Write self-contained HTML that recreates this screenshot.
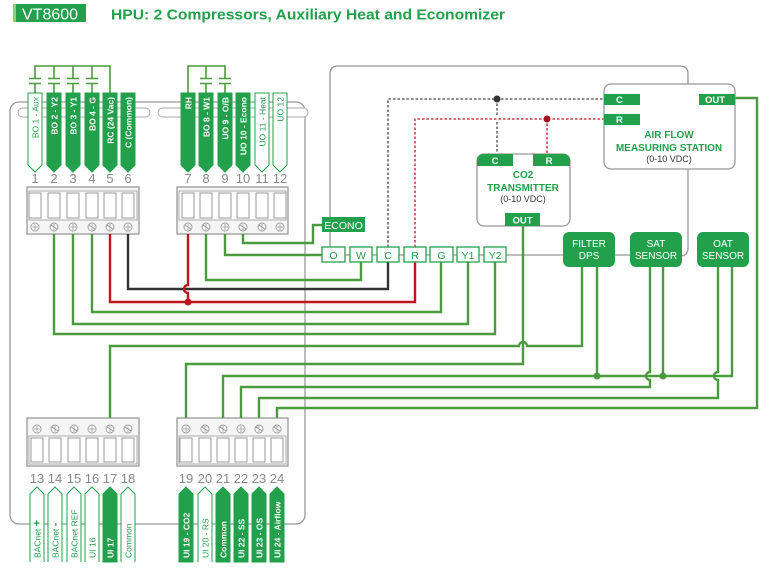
<!DOCTYPE html>
<html><head><meta charset="utf-8"><style>
html,body{margin:0;padding:0;background:#fff;}
svg{display:block;font-family:"Liberation Sans",Arial,sans-serif;}
.tw{fill:#fff;font-size:8.5px;font-weight:bold;}
.tg{fill:#22a04b;font-size:8.5px;}
.num{fill:#888;font-size:13px;text-anchor:middle;}
.w{fill:none;stroke:#4c9a3f;stroke-width:2.4;}
.gr{fill:none;stroke:#999;stroke-width:1.3;}
</style></head><body>
<svg width="768" height="572" viewBox="0 0 768 572">
<!-- header -->
<rect x="13" y="4" width="73" height="18" fill="#22a04b"/>
<rect x="13" y="4" width="3" height="18" fill="#8fd070"/>
<text x="22" y="19.5" fill="#fff" font-size="16">VT8600</text>
<text x="111" y="19.5" fill="#22a04b" font-size="15" font-weight="bold" textLength="394" lengthAdjust="spacingAndGlyphs">HPU: 2 Compressors, Auxiliary Heat and Economizer</text>

<!-- panel -->
<rect x="10" y="102" width="295" height="422" rx="9" fill="none" stroke="#999" stroke-width="1.3"/>
<rect x="18" y="108" width="132" height="9" rx="4.5" fill="#fff" stroke="#aaa" stroke-width="1"/>
<rect x="158" y="108" width="150" height="9" rx="4.5" fill="#fff" stroke="#aaa" stroke-width="1"/>

<!-- gray outer loop -->
<path class="gr" d="M330,247 V74 Q330,66 338,66 H680 Q688,66 688,74 V248 Q688,256 680,256"/>
<path class="gr" d="M322,255 H506 M506,255 H563 M615,255 H630"/>

<!-- jumpers top -->
<g fill="none" stroke="#4c9a3f" stroke-width="1.6">
<path d="M35,93 V66 H110 V93"/>
<path d="M54,66 V93 M73,66 V93 M92,66 V93"/>
<path d="M188,93 V66 H225 V93 M206,66 V93"/>
</g>
<g fill="#fff">
<rect x="29" y="78" width="12" height="6"/><rect x="48" y="78" width="12" height="6"/><rect x="67" y="78" width="12" height="6"/><rect x="86" y="78" width="12" height="6"/><rect x="200" y="78" width="12" height="6"/><rect x="219" y="78" width="12" height="6"/>
</g>
<g stroke="#4c9a3f" stroke-width="1.6">
<path d="M29,78.5 h12 M29,83.5 h12 M48,78.5 h12 M48,83.5 h12 M67,78.5 h12 M67,83.5 h12 M86,78.5 h12 M86,83.5 h12 M200,78.5 h12 M200,83.5 h12 M219,78.5 h12 M219,83.5 h12"/>
</g>

<!-- top tags -->
<g stroke="#22a04b" stroke-width="1">
<path d="M28,93 h14 v72 l-7,7 l-7,-7z" fill="#fff"/>
<path d="M47,93 h14 v72 l-7,7 l-7,-7z" fill="#22a04b"/>
<path d="M66,93 h14 v72 l-7,7 l-7,-7z" fill="#22a04b"/>
<path d="M85,93 h14 v72 l-7,7 l-7,-7z" fill="#22a04b"/>
<path d="M103,93 h14 v72 l-7,7 l-7,-7z" fill="#22a04b"/>
<path d="M121,93 h14 v72 l-7,7 l-7,-7z" fill="#22a04b"/>
<path d="M181,93 h14 v72 l-7,7 l-7,-7z" fill="#22a04b"/>
<path d="M199,93 h14 v72 l-7,7 l-7,-7z" fill="#22a04b"/>
<path d="M218,93 h14 v72 l-7,7 l-7,-7z" fill="#22a04b"/>
<path d="M236,93 h14 v72 l-7,7 l-7,-7z" fill="#22a04b"/>
<path d="M255,93 h14 v72 l-7,7 l-7,-7z" fill="#fff"/>
<path d="M273,93 h14 v72 l-7,7 l-7,-7z" fill="#fff"/>
</g>
<g text-anchor="end">
<text class="tg" transform="translate(38.5,97) rotate(-90)">BO 1 - Aux</text>
<text class="tw" transform="translate(57.5,97) rotate(-90)">BO 2 - Y2</text>
<text class="tw" transform="translate(76.5,97) rotate(-90)">BO 3 - Y1</text>
<text class="tw" transform="translate(95.5,97) rotate(-90)">BO 4 - G</text>
<text class="tw" transform="translate(113.5,97) rotate(-90)">RC (24 Vac)</text>
<text class="tw" transform="translate(131.5,97) rotate(-90)">C (Common)</text>
<text class="tw" transform="translate(191.5,97) rotate(-90)">RH</text>
<text class="tw" transform="translate(209.5,97) rotate(-90)">BO 8 - W1</text>
<text class="tw" transform="translate(228.5,97) rotate(-90)">UO 9 - O/B</text>
<text class="tw" transform="translate(246.5,97) rotate(-90)">UO 10 - Econo</text>
<text class="tg" transform="translate(265.5,97) rotate(-90)" font-size="7.5">UO 11 - Heat</text>
<text class="tg" transform="translate(283.5,97) rotate(-90)">UO 12</text>
</g>
<g class="num">
<text x="35" y="183">1</text><text x="54" y="183">2</text><text x="73" y="183">3</text><text x="92" y="183">4</text><text x="110" y="183">5</text><text x="128" y="183">6</text>
<text x="188" y="183">7</text><text x="206" y="183">8</text><text x="225" y="183">9</text><text x="243" y="183">10</text><text x="262" y="183">11</text><text x="280" y="183">12</text>
</g>

<!-- terminal blocks top -->
<g fill="#f5f5f5" stroke="#999" stroke-width="1.3">
<rect x="27" y="187" width="112" height="47"/>
<rect x="177" y="187" width="111" height="47"/>
<rect x="27" y="418" width="112" height="48"/>
<rect x="177" y="418" width="111" height="48"/>
</g>
<g fill="#fff" stroke="#aaa" stroke-width="1">
<rect x="29" y="191" width="108" height="29"/><rect x="179" y="191" width="107" height="29"/>
<rect x="29" y="436" width="108" height="28"/><rect x="179" y="436" width="107" height="28"/>
</g>
<g fill="#fff" stroke="#999" stroke-width="1">
<rect x="29" y="193" width="12" height="25"/><rect x="48" y="193" width="12" height="25"/><rect x="67" y="193" width="12" height="25"/><rect x="86" y="193" width="12" height="25"/><rect x="104" y="193" width="12" height="25"/><rect x="122" y="193" width="12" height="25"/>
<rect x="182" y="193" width="12" height="25"/><rect x="200" y="193" width="12" height="25"/><rect x="219" y="193" width="12" height="25"/><rect x="237" y="193" width="12" height="25"/><rect x="256" y="193" width="12" height="25"/><rect x="274" y="193" width="12" height="25"/>
<rect x="31" y="438" width="12" height="24"/><rect x="49" y="438" width="12" height="24"/><rect x="68" y="438" width="12" height="24"/><rect x="86" y="438" width="12" height="24"/><rect x="104" y="438" width="12" height="24"/><rect x="122" y="438" width="12" height="24"/>
<rect x="180" y="438" width="12" height="24"/><rect x="199" y="438" width="12" height="24"/><rect x="217" y="438" width="12" height="24"/><rect x="235" y="438" width="12" height="24"/><rect x="253" y="438" width="12" height="24"/><rect x="271" y="438" width="12" height="24"/>
</g>
<g fill="#fff" stroke="#999" stroke-width="0.9">
<circle cx="35" cy="227" r="4"/><circle cx="54" cy="227" r="4"/><circle cx="73" cy="227" r="4"/><circle cx="92" cy="227" r="4"/><circle cx="110" cy="227" r="4"/><circle cx="128" cy="227" r="4"/>
<circle cx="188" cy="227" r="4"/><circle cx="206" cy="227" r="4"/><circle cx="225" cy="227" r="4"/><circle cx="243" cy="227" r="4"/><circle cx="262" cy="227" r="4"/><circle cx="280" cy="227" r="4"/>
<circle cx="37" cy="429" r="4"/><circle cx="55" cy="429" r="4"/><circle cx="74" cy="429" r="4"/><circle cx="92" cy="429" r="4"/><circle cx="110" cy="429" r="4"/><circle cx="128" cy="429" r="4"/>
<circle cx="186" cy="429" r="4"/><circle cx="205" cy="429" r="4"/><circle cx="223" cy="429" r="4"/><circle cx="241" cy="429" r="4"/><circle cx="259" cy="429" r="4"/><circle cx="277" cy="429" r="4"/>
</g>
<g stroke="#999" stroke-width="0.8">
<path d="M32,227h6M35,224v6 M51,225l6,4M54,224v6 M70,227h6M73,224v6 M89,225l6,4M92,224v6 M107,225l6,4M110,224v6 M125,227h6M128,224v6"/>
<path d="M185,225l6,4M188,224v6 M203,225l6,4M206,224v6 M222,227h6M225,224v6 M240,225l6,4M243,224v6 M259,225l6,4M262,224v6 M277,227h6M280,224v6"/>
<path d="M34,429h6M37,426v6 M52,427l6,4M55,426v6 M71,427l6,4M74,426v6 M89,429h6M92,426v6 M107,427l6,4M110,426v6 M125,427l6,4M128,426v6"/>
<path d="M183,429h6M186,426v6 M202,427l6,4M205,426v6 M220,427l6,4M223,426v6 M238,429h6M241,426v6 M256,427l6,4M259,426v6 M274,427l6,4M277,426v6"/>
</g>

<!-- bottom numbers and tags -->
<g class="num">
<text x="37" y="483">13</text><text x="55" y="483">14</text><text x="74" y="483">15</text><text x="92" y="483">16</text><text x="110" y="483">17</text><text x="128" y="483">18</text>
<text x="186" y="483">19</text><text x="205" y="483">20</text><text x="223" y="483">21</text><text x="241" y="483">22</text><text x="259" y="483">23</text><text x="277" y="483">24</text>
</g>
<g stroke="#22a04b" stroke-width="1">
<path d="M30,562 v-68 l7,-7 l7,7 v68" fill="#fff"/>
<path d="M48,562 v-68 l7,-7 l7,7 v68" fill="#fff"/>
<path d="M67,562 v-68 l7,-7 l7,7 v68" fill="#fff"/>
<path d="M85,562 v-68 l7,-7 l7,7 v68" fill="#fff"/>
<path d="M103,562 v-68 l7,-7 l7,7 v68z" fill="#22a04b"/>
<path d="M121,562 v-68 l7,-7 l7,7 v68" fill="#fff"/>
<path d="M179,562 v-68 l7,-7 l7,7 v68z" fill="#22a04b"/>
<path d="M198,562 v-68 l7,-7 l7,7 v68" fill="#fff"/>
<path d="M216,562 v-68 l7,-7 l7,7 v68z" fill="#22a04b"/>
<path d="M234,562 v-68 l7,-7 l7,7 v68z" fill="#22a04b"/>
<path d="M252,562 v-68 l7,-7 l7,7 v68z" fill="#22a04b"/>
<path d="M270,562 v-68 l7,-7 l7,7 v68z" fill="#22a04b"/>
</g>
<text class="tg" transform="translate(40.5,558) rotate(-90)">BACnet <tspan font-weight="bold" font-size="11">+</tspan></text>
<text class="tg" transform="translate(58.5,558) rotate(-90)">BACnet <tspan font-weight="bold" font-size="11">-</tspan></text>
<text class="tg" transform="translate(77.5,558) rotate(-90)">BACnet REF</text>
<text class="tg" transform="translate(95.5,558) rotate(-90)">UI 16</text>
<text class="tw" transform="translate(113.5,558) rotate(-90)">UI 17</text>
<text class="tg" transform="translate(131.5,558) rotate(-90)">Common</text>
<text class="tw" transform="translate(189.5,558) rotate(-90)">UI 19 - CO2</text>
<text class="tg" transform="translate(208.5,558) rotate(-90)">UI 20 - RS</text>
<text class="tw" transform="translate(226.5,558) rotate(-90)">Common</text>
<text class="tw" transform="translate(244.5,558) rotate(-90)">UI 22 - SS</text>
<text class="tw" transform="translate(262.5,558) rotate(-90)">UI 23 - OS</text>
<text class="tw" transform="translate(280.5,558) rotate(-90)">UI 24 - Airflow</text>

<!-- wires top -->
<path class="w" d="M54,234 V334 H495 V262"/>
<path class="w" d="M73,234 V324 H468 V262"/>
<path class="w" d="M92,234 V312 H441 V262"/>
<path fill="none" stroke="#333" stroke-width="2.4" d="M128,234 V289 H388 V262"/>
<path fill="none" stroke="#c0141f" stroke-width="2.4" d="M110,234 V302 H415 V262"/>
<path fill="none" stroke="#c0141f" stroke-width="2.4" d="M188,234 V285 a4,4 0 0 0 0,8 V302"/>
<circle cx="188" cy="302" r="3.5" fill="#c0141f"/>
<path class="w" d="M206,234 V280 H361 V262"/>
<path class="w" d="M225,234 V255 H322"/>
<path class="w" d="M243,234 V243 H313 V225 H322"/>

<!-- wires bottom -->
<path class="w" d="M523,226 V364 H186 V418"/>
<path class="w" d="M582,267 V346 H527 a4,4 0 0 0 -8,0 H110 V418"/>
<path class="w" d="M732,267 V376 H223 V418"/>
<path class="w" d="M597,267 V376"/>
<path class="w" d="M663,267 V376"/>
<path class="w" d="M650,267 V372 a4,4 0 0 0 0,8 V387 H241 V418"/>
<path class="w" d="M718,267 V372 a4,4 0 0 0 0,8 V398 H259 V418"/>
<path class="w" d="M735,98 H757 V408 H277 V418"/>
<circle cx="597" cy="376" r="3.5" fill="#4c9a3f"/>
<circle cx="663" cy="376" r="3.5" fill="#4c9a3f"/>

<!-- dotted -->
<path fill="none" stroke="#444" stroke-width="1.3" stroke-dasharray="2.5,2" d="M388,247 V99 H604 M497,99 V115 M497,122 V154"/>
<path fill="none" stroke="#c0141f" stroke-width="1.3" stroke-dasharray="2.5,2" d="M415,247 V119 H604 M547,119 V154"/>
<circle cx="497" cy="99" r="3.5" fill="#333"/>
<circle cx="547" cy="119" r="3.5" fill="#a0141f"/>

<!-- thermostat terminals -->
<g fill="#fff" stroke="#22a04b" stroke-width="1.3">
<rect x="322" y="247" width="23" height="15"/><rect x="350" y="247" width="22" height="15"/><rect x="377" y="247" width="22" height="15"/><rect x="404" y="247" width="22" height="15"/><rect x="430" y="247" width="23" height="15"/><rect x="457" y="247" width="22" height="15"/><rect x="484" y="247" width="22" height="15"/>
</g>
<g fill="#22a04b" font-size="10.5" text-anchor="middle">
<text x="333.5" y="259">O</text><text x="361" y="259">W</text><text x="388" y="259">C</text><text x="415" y="259">R</text><text x="441.5" y="259">G</text><text x="468" y="259">Y1</text><text x="495" y="259">Y2</text>
</g>
<rect x="322" y="217" width="43" height="15" fill="#22a04b"/>
<text x="343.5" y="229" fill="#fff" font-size="10.5" text-anchor="middle">ECONO</text>

<!-- CO2 transmitter -->
<rect x="477" y="154" width="93" height="72" rx="7" fill="#fff" stroke="#999" stroke-width="1.3"/>
<path d="M477,166 V161 Q477,154 484,154 H513 V166Z" fill="#22a04b"/>
<path d="M533,154 H563 Q570,154 570,161 V166 H533Z" fill="#22a04b"/>
<rect x="505" y="213" width="35" height="13" fill="#22a04b"/>
<g font-weight="bold" text-anchor="middle">
<text x="495" y="164" fill="#fff" font-size="9.5">C</text>
<text x="549" y="164" fill="#fff" font-size="9.5">R</text>
<text x="522.5" y="223.5" fill="#fff" font-size="9.5">OUT</text>
<text x="523" y="178" fill="#22a04b" font-size="10">CO2</text>
<text x="523" y="191" fill="#22a04b" font-size="10">TRANSMITTER</text>
</g>
<text x="523" y="202" fill="#333" font-size="9" text-anchor="middle">(0-10 VDC)</text>

<!-- Air flow station -->
<rect x="604" y="84" width="131" height="85" rx="7" fill="#fff" stroke="#999" stroke-width="1.3"/>
<rect x="604" y="94" width="36" height="11" fill="#22a04b"/>
<rect x="604" y="114" width="36" height="11" fill="#22a04b"/>
<rect x="699" y="94" width="36" height="11" fill="#22a04b"/>
<g font-weight="bold" fill="#fff" font-size="9.5">
<text x="616" y="103">C</text><text x="616" y="123">R</text><text x="705" y="103">OUT</text>
</g>
<g fill="#22a04b" font-size="10" font-weight="bold" text-anchor="middle">
<text x="669" y="138">AIR FLOW</text>
<text x="669" y="151">MEASURING STATION</text>
</g>
<text x="669" y="162" fill="#333" font-size="9" text-anchor="middle">(0-10 VDC)</text>

<!-- sensors -->
<g fill="#22a04b">
<rect x="563" y="232" width="52" height="35" rx="6"/>
<rect x="630" y="232" width="52" height="35" rx="6"/>
<rect x="697" y="232" width="52" height="35" rx="6"/>
</g>
<g fill="#fff" font-size="10" text-anchor="middle">
<text x="589" y="247">FILTER</text><text x="589" y="259">DPS</text>
<text x="656" y="247">SAT</text><text x="656" y="259">SENSOR</text>
<text x="723" y="247">OAT</text><text x="723" y="259">SENSOR</text>
</g>
</svg>
</body></html>
